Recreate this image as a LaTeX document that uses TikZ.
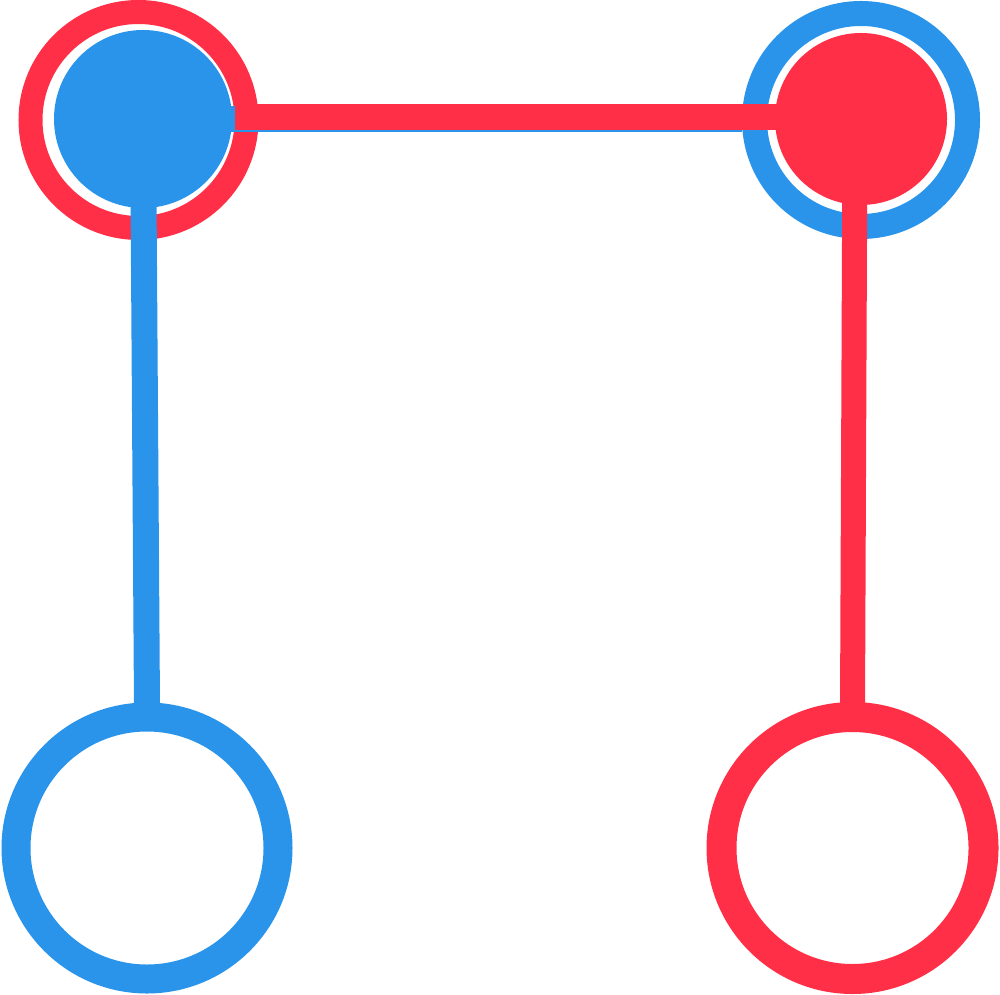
\documentclass[tikz,border=0pt]{standalone}
\definecolor{myblue}{RGB}{41,148,234}
\definecolor{myred}{RGB}{255,47,71}
\begin{document}
\begin{tikzpicture}[
    disc/.style={circle, inner sep=0pt, fill=#1},
    ring/.style={circle, inner sep=0pt, draw=#1},
    bar/.style={line width=0.26cm, draw=#1}]
        \useasboundingbox (0,0) rectangle (10,-9.94);

        % Define the top circles
        \node[ring=myred, line width=0.24cm, minimum size=2.16cm] (bring) at (1.385,-1.2) {};
        \node[disc=myblue, minimum size=1.78cm] (bdot) at (1.43,-1.19) {};
        \node[ring=myblue, line width=0.25cm, minimum size=2.13cm] (rring) at (8.61,-1.2) {};
        \node[disc=myred, minimum size=1.72cm] (rdot) at (8.61,-1.19) {};

        % Define the bottom circles
        \node[ring=myblue, line width=0.29cm, minimum size=2.62cm] (bl) at (1.47,-8.48) {};
        \node[ring=myred, line width=0.30cm, minimum size=2.62cm] (br) at (8.525,-8.48) {};

        % Horizontal bars
        \coordinate (hb) at (0,-1.195);
        \coordinate (hr) at (0,-1.175);
        \path (bring.east) ++(-0.24,0) coordinate (rs);
        \draw[bar=myblue] (bdot.center |- hb) -- (rring.west |- hb);
        \draw[bar=myred] (rs |- hr) -- (rdot.center |- hr);

        % Vertical bars
        \draw[bar=myblue] (bdot.center) -- ([yshift=-0.05cm]bl.north);
        \draw[bar=myred, line width=0.25cm] ([xshift=-0.06cm]rdot.center) -- ([yshift=-0.05cm]br.north);
    \end{tikzpicture}
\end{document}
